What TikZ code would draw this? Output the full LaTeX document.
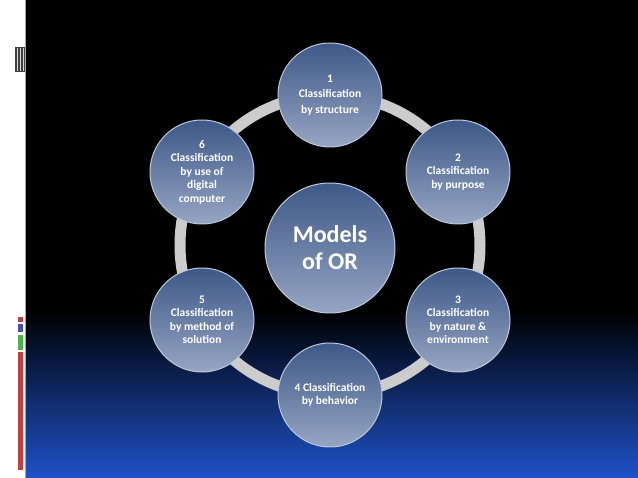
\documentclass[tikz,border=0pt]{standalone}
\usepackage{fontspec}
\setmainfont{Carlito}
\begin{document}
\begin{tikzpicture}[x=1pt,y=-1pt,
  ball/.style={circle,minimum size=104pt,inner sep=0pt,top color=cTop,bottom color=cBot,draw=cEdge,line width=1pt,text=white,font=\bfseries\fontsize{11.5}{13.5}\selectfont,align=center}]
\definecolor{cTop}{RGB}{62,88,135}
\definecolor{cBot}{RGB}{150,165,195}
\definecolor{cEdge}{RGB}{190,200,220}
\definecolor{bgblue}{RGB}{30,82,200}
\useasboundingbox (0,0) rectangle (638,478);
\fill[white] (0,0) rectangle (638,478);
\fill[black] (25,0) rectangle (638,310);
\shade[top color=black,bottom color=bgblue] (25,310) rectangle (638,478);
\draw[gray!70,line width=0.6pt] (25,0) -- (25,478);
\fill[black!75] (15,47) rectangle (25,72);
\foreach \x in {17,20,23} \draw[white!70!gray,line width=0.5pt] (\x,48) -- (\x,71);
\fill[red!50!gray] (18,317) rectangle (23,322);
\fill[blue!40!gray] (18,324) rectangle (23,332);
\fill[green!40!gray] (18,335) rectangle (23,350);
\fill[red!50!gray] (18,352) rectangle (23,470);
\draw[line width=11pt,color=gray!40!white] (330,245) circle (150);
\node[ball] (n1) at (330,95) {1\\[2pt]Classification\\[2pt]by structure};
\node[ball] (n2) at (458,172) {2\\Classification\\by purpose};
\node[ball] (n3) at (458,320) {3\\Classification\\by nature \&\\environment};
\node[ball] (n4) at (330,395) {4 Classification\\by behavior};
\node[ball] (n5) at (202,320) {5\\Classification\\by method of\\solution};
\node[ball] (n6) at (202,172) {6\\Classification\\by use of\\digital\\computer};
\node[ball,minimum size=130pt,font=\bfseries\fontsize{24}{27}\selectfont] (c) at (330,248) {Models\\of OR};
\end{tikzpicture}
\end{document}
